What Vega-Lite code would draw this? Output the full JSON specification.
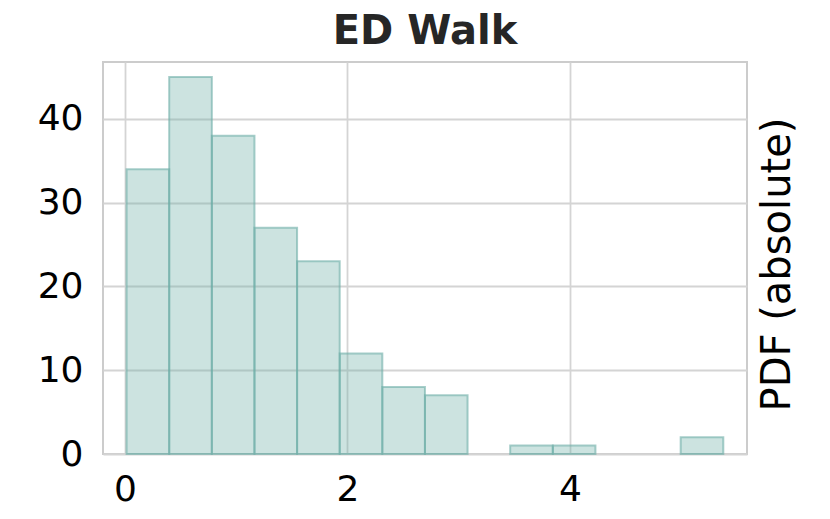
{
  "$schema": "https://vega.github.io/schema/vega-lite/v6.json",
  "autosize": {"type": "none"},
  "padding": {"left": 103, "top": 62, "right": 83, "bottom": 65},
  "width": 644,
  "height": 392,
  "background": "white",
  "title": {"text": "ED Walk", "font": "DejaVu Sans", "fontSize": 40, "fontWeight": "bold", "color": "#262626", "anchor": "middle", "offset": 10},
  "config": {
    "view": {"stroke": "#cccccc", "strokeWidth": 2},
    "axis": {"labelFont": "DejaVu Sans", "labelFontSize": 36, "labelColor": "#000000", "titleFont": "DejaVu Sans", "titleFontSize": 40, "titleFontWeight": "normal", "titleColor": "#000000", "gridColor": "#d4d4d4", "gridWidth": 1.8, "domain": false, "ticks": false}
  },
  "data": {
    "values": [
      {"bin_start": 0.015, "bin_end": 0.398, "count": 34},
      {"bin_start": 0.398, "bin_end": 0.781, "count": 45},
      {"bin_start": 0.781, "bin_end": 1.164, "count": 38},
      {"bin_start": 1.164, "bin_end": 1.547, "count": 27},
      {"bin_start": 1.547, "bin_end": 1.930, "count": 23},
      {"bin_start": 1.930, "bin_end": 2.313, "count": 12},
      {"bin_start": 2.313, "bin_end": 2.696, "count": 8},
      {"bin_start": 2.696, "bin_end": 3.079, "count": 7},
      {"bin_start": 3.079, "bin_end": 3.462, "count": 0},
      {"bin_start": 3.462, "bin_end": 3.845, "count": 1},
      {"bin_start": 3.845, "bin_end": 4.228, "count": 1},
      {"bin_start": 4.228, "bin_end": 4.611, "count": 0},
      {"bin_start": 4.611, "bin_end": 4.994, "count": 0},
      {"bin_start": 4.994, "bin_end": 5.377, "count": 2}
    ]
  },
  "transform": [{"filter": "datum.count > 0"}],
  "mark": {"type": "rect", "fill": "#6daea6", "fillOpacity": 0.35, "stroke": "#6daea6", "strokeOpacity": 0.6, "strokeWidth": 2},
  "encoding": {
    "x": {"field": "bin_start", "type": "quantitative", "scale": {"domain": [-0.197, 5.59], "nice": false, "zero": false},
      "axis": {"values": [0, 2, 4], "title": null, "labelPadding": 18}},
    "x2": {"field": "bin_end"},
    "y": {"field": "count", "type": "quantitative", "scale": {"domain": [0, 46.8], "nice": false},
      "axis": {"values": [0, 10, 20, 30, 40], "labelPadding": 20, "title": "PDF (absolute)", "titleAngle": 270, "titleAlign": "center", "titleBaseline": "alphabetic", "titleX": 686, "titleY": 202}},
    "y2": {"datum": 0}
  }
}
